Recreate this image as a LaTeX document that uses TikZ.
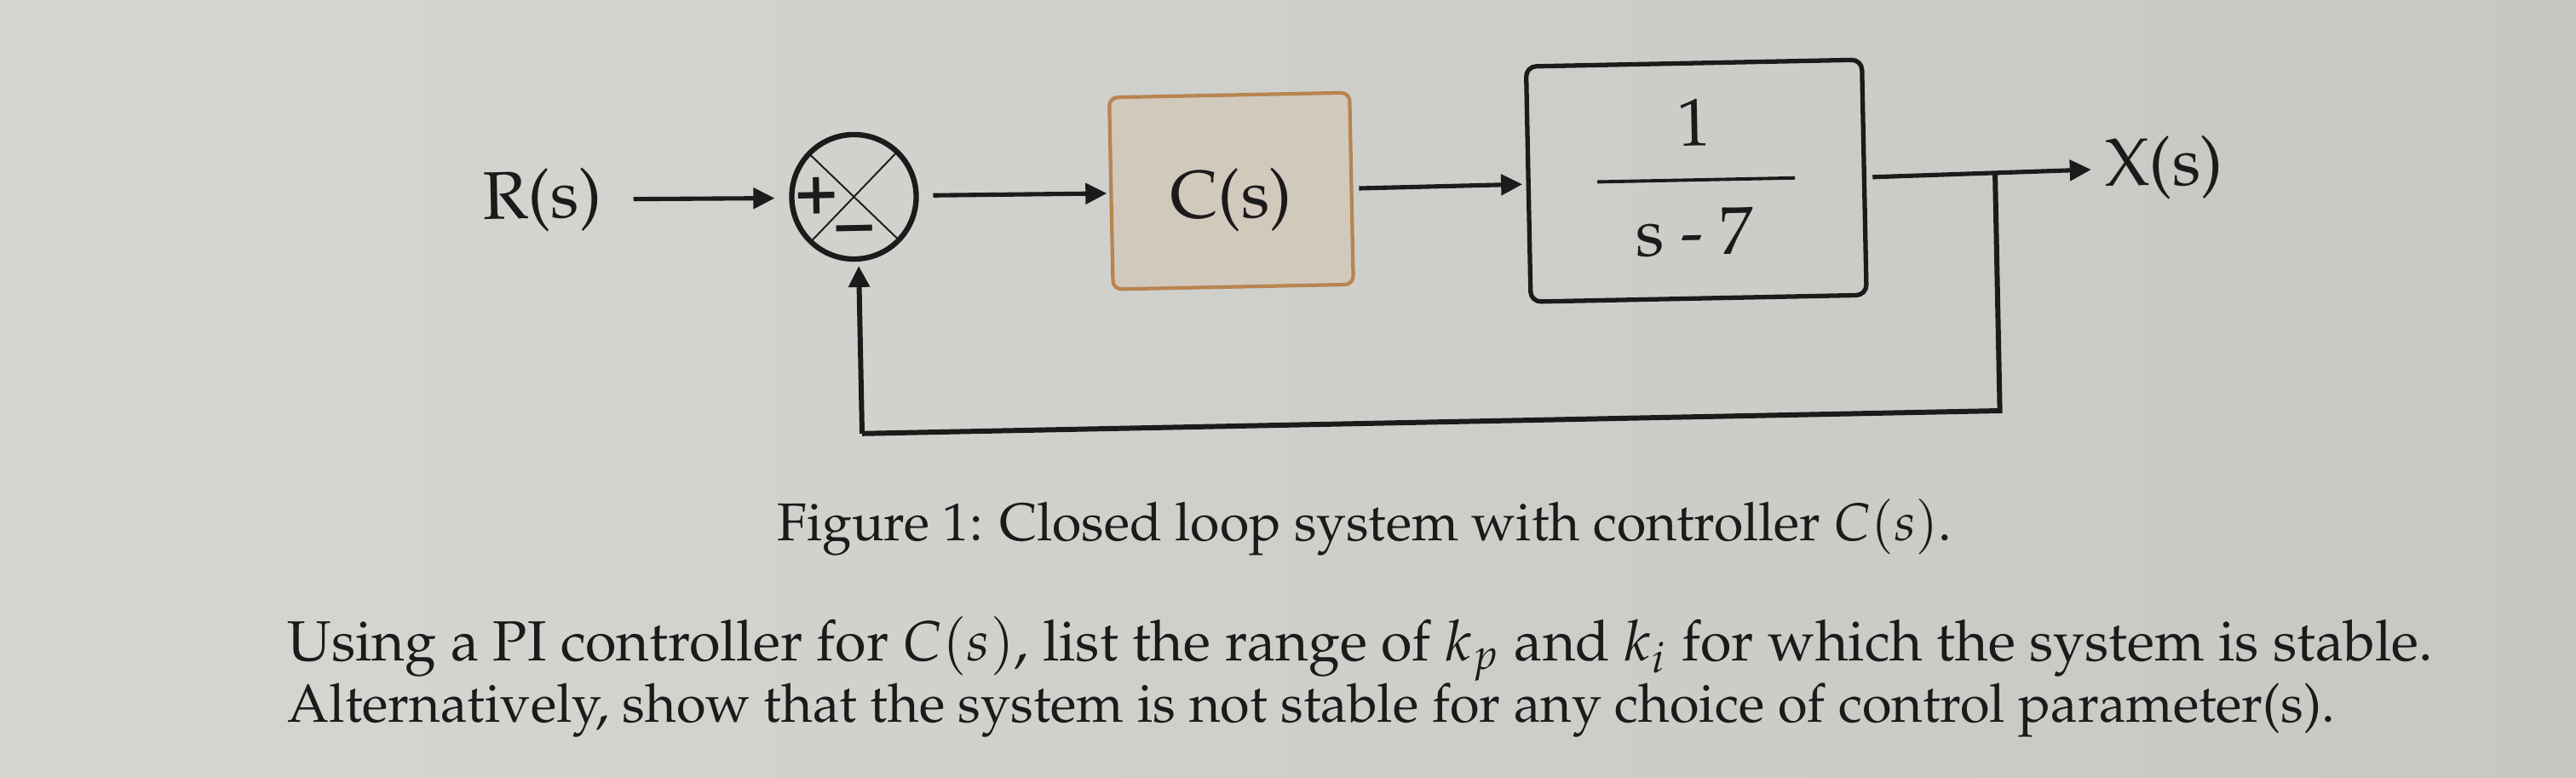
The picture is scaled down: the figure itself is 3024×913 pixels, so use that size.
\documentclass[tikz,border=0pt]{standalone}
\usepackage[T1]{fontenc}
\usepackage{mathpazo}
\usepackage{graphicx}
\usetikzlibrary{arrows.meta,calc}
\definecolor{paperA}{RGB}{214,214,210}
\definecolor{paperB}{RGB}{199,200,196}
\definecolor{ink}{RGB}{28,26,26}
\definecolor{cfill}{RGB}{210,201,189}
\definecolor{cedge}{RGB}{184,132,80}
\tikzset{
  wire/.style={draw=ink, line width=1.45pt},
  arr/.style={wire, -{Triangle[length=2.5mm,width=2.4mm]}},
  lbl/.style={text=ink, font=\fontsize{22.5}{26}\selectfont, inner sep=0pt},
  ctrl/.style={draw=cedge, fill=cfill, line width=1.2pt, rounded corners=1mm,
    minimum width=2.82cm, minimum height=2.25cm, inner sep=0pt, outer sep=0pt},
  plant/.style={draw=ink, line width=1.5pt, rounded corners=1.2mm,
    minimum width=3.94cm, minimum height=2.76cm, inner sep=0pt, outer sep=0pt},
  sumnode/.style={circle, draw=ink, line width=1.8pt, minimum size=1.46cm,
    inner sep=0pt, outer sep=0pt},
  txt/.style={text=ink, inner sep=0pt, anchor=base west},
}
\begin{document}
\begin{tikzpicture}[x=0.01cm,y=-0.01cm]
\shade[left color=paperA, right color=paperB] (0,0) rectangle (3024,913);
\useasboundingbox (0,0) rectangle (3024,913);
\begin{scope}[rotate around={1.15:(1700,300)}, transform shape]
  \node[lbl] (R) at (638,214) {R(s)};
  \node[sumnode] (S) at (1004,217) {};
  \draw[ink, line width=0.55pt] (S.45) -- (S.225) (S.135) -- (S.-45);
  \node[lbl, font=\fontsize{24}{24}\selectfont\bfseries] (plus) at ($(S)+(-44,-2)$) {+};
  \node[lbl, font=\fontsize{24}{24}\selectfont\bfseries] (minus) at ($(S)+(0,46)$) {--};
  \node[ctrl] (C) at (1447,219) {};
  \node[lbl] (Ct) at ($(C)+(0,11)$) {C(s)};
  \node[plant] (P) at (1993,218) {};
  \node[lbl] (num) at (1992,150) {1};
  \node[lbl] (den) at (1990,278) {s - 7};
  \draw[ink, line width=1.1pt] ($(P)+(-116,-1)$) -- ($(P)+(116,-1)$);
  \node[lbl] (X) at (2542,214) {X(s)};
  \coordinate (br) at (2344,216);
  \coordinate (fb1) at (2344,495);
  \coordinate (fb2) at (1008,495);
  % connectors
  \draw[arr, shorten <=0.37cm, shorten >=0.2cm] (R.east) -- (S.west);
  \draw[arr, shorten <=0.2cm, shorten >=0.05cm] (S.east) -- (C.west);
  \draw[arr, shorten <=0.09cm, shorten >=0.07cm] (C.east) -- (P.west);
  \draw[arr, shorten <=0.1cm, shorten >=0.15cm] (P.east) -- (X.west);
  \draw[wire, line width=1.7pt, line join=miter] (br) -- (fb1) -- (fb2);
  \draw[arr, line width=1.7pt, shorten >=0.08cm] (fb2) -- (fb2 |- S.south);
\end{scope}
\node[txt] (cap) at (912,635)
  {\resizebox{13.78cm}{!}{Figure 1: Closed loop system with controller $C(s)$.}};
\node[txt] (l1) at (337,776)
  {\resizebox{25.17cm}{!}{Using a PI controller for $C(s)$, list the range of $k_p$ and $k_i$ for which the system is stable.}};
\node[txt] (l2) at (337,847)
  {\resizebox{24.02cm}{!}{Alternatively, show that the system is not stable for any choice of control parameter(s).}};
\end{tikzpicture}
\end{document}
